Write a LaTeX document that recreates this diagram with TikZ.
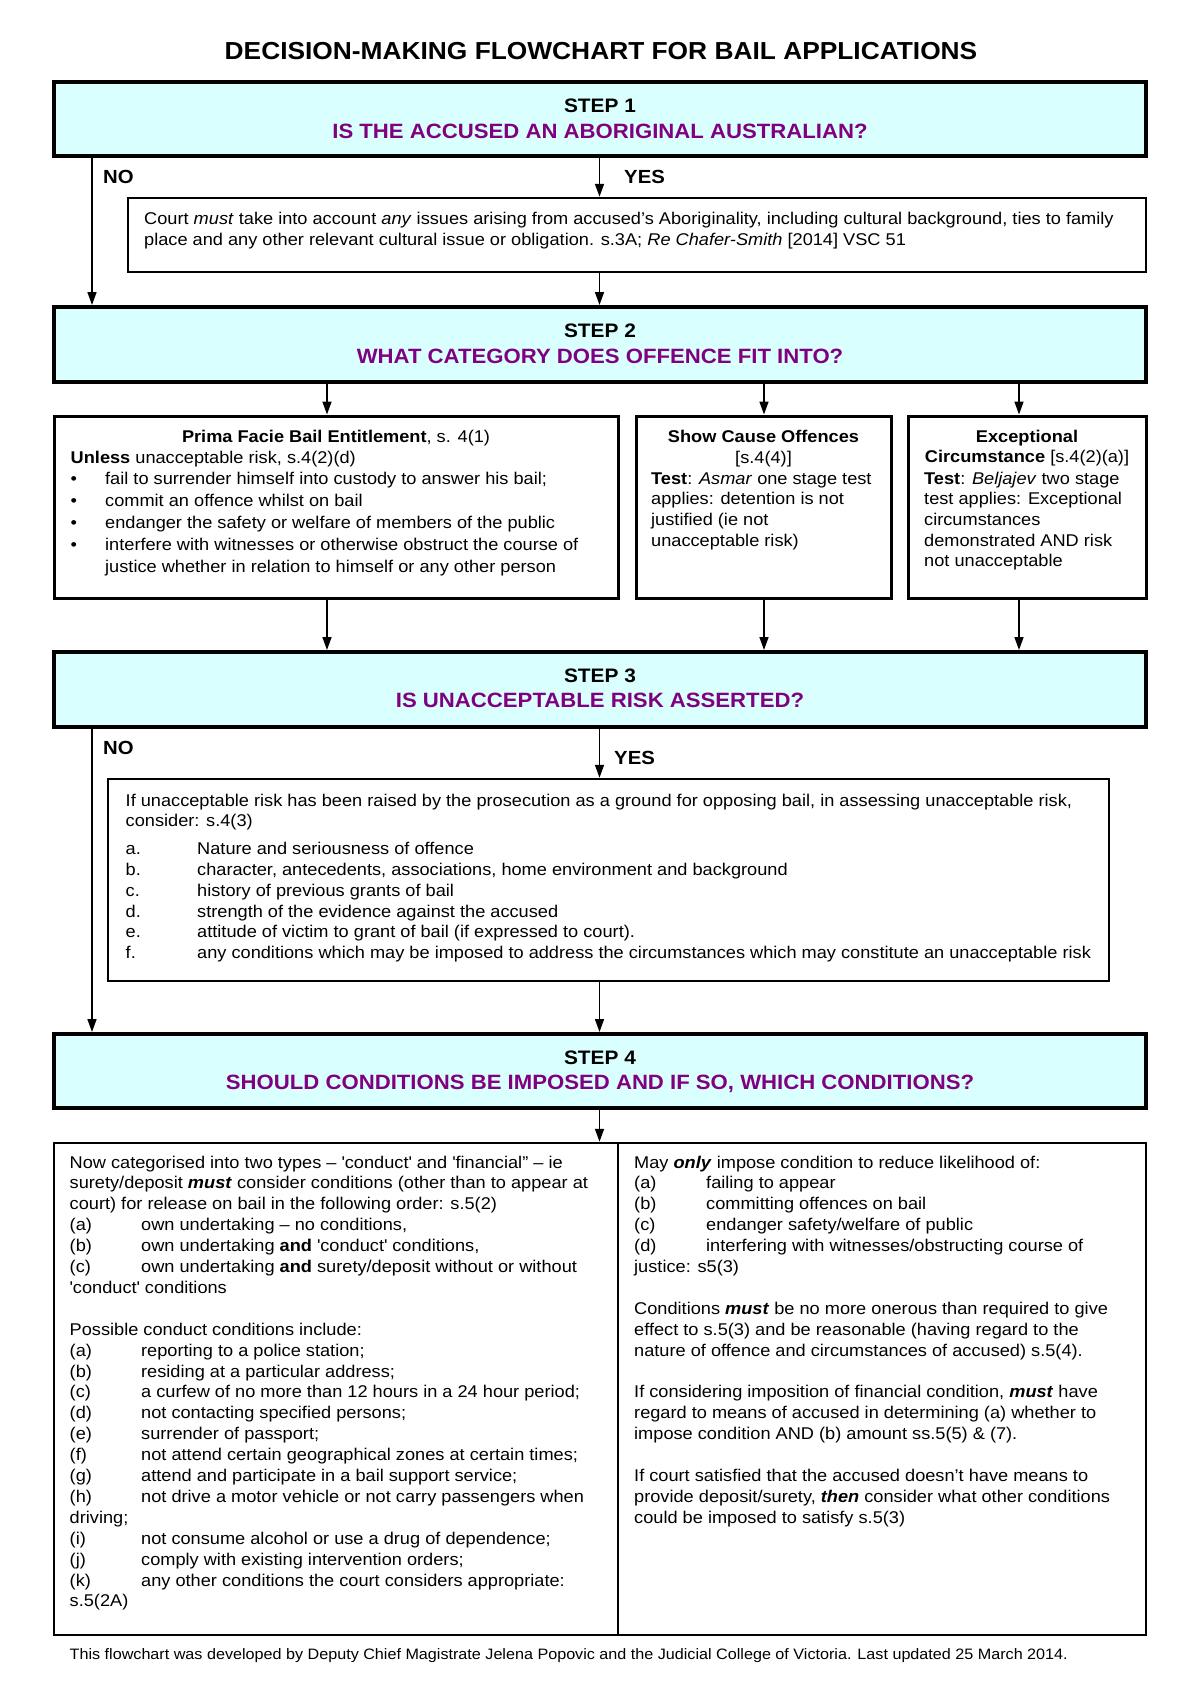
\documentclass[tikz,border=0pt]{standalone}
\usepackage{fontspec}
\setmainfont{Liberation Sans}[FakeStretch=1.07]
\usetikzlibrary{arrows.meta,calc}
\definecolor{stepfill}{RGB}{218,255,255}
\definecolor{qpurple}{RGB}{128,0,128}
\newcommand{\q}{\textquotesingle}
\newcommand{\lb}[2]{\makebox[#1][l]{#2}}
\newcommand{\tb}[2]{\parbox[t]{1100pt}{\raggedright\fontsize{17}{#1}\selectfont #2}}
\begin{document}
\begin{tikzpicture}[x=1pt,y=-1pt,
  stepbox/.style={draw=black,line width=4pt,fill=stepfill,inner sep=0pt},
  rowbox/.style={draw=black,line width=3pt,fill=white,inner sep=0pt},
  plainbox/.style={draw=black,line width=2.5pt,fill=white,inner sep=0pt},
  arr/.style={line width=1.6pt,-{Triangle[width=9pt,length=13pt]}},
  stepno/.style={anchor=base,inner sep=0pt,font=\fontsize{19.5}{24}\selectfont\bfseries},
  qtext/.style={anchor=base,inner sep=0pt,text=qpurple,font=\fontsize{20.7}{25}\selectfont\bfseries},
  yesno/.style={anchor=base west,inner sep=0pt,font=\fontsize{19}{23}\selectfont\bfseries},
  body/.style={anchor=base west,inner sep=0pt},
  cbody/.style={anchor=base,inner sep=0pt,font=\fontsize{17}{21}\selectfont}
]
\useasboundingbox (0,0) rectangle (1200,1698);
\fill[white] (0,0) rectangle (1200,1698);

% title
\node[anchor=base,inner sep=0pt,font=\fontsize{24.6}{30}\selectfont\bfseries] (title) at (601,59) {DECISION-MAKING FLOWCHART FOR BAIL APPLICATIONS};

% guide coordinates
\coordinate (L) at (92,0);
\coordinate (M) at (599.5,0);
\coordinate (AX) at (327,0);
\coordinate (BX) at (764,0);
\coordinate (CX) at (1019,0);

% STEP 1
\node[stepbox,minimum width=1092pt,minimum height=74pt] (step1) at (600,119) {};
\node[stepno] (s1a) at (600,112) {STEP 1};
\node[qtext] (s1b) at (600,138) {IS THE ACCUSED AN ABORIGINAL AUSTRALIAN?};
\node[yesno] (no1) at (103,183) {NO};
\node[yesno] (yes1) at (624,183) {YES};

\node[plainbox,minimum width=1018pt,minimum height=74pt] (court) at (637,235) {};
\node[body] (courtt) at (144,224) {\tb{21}{Court \textit{must} take into account \textit{any} issues arising from accused's Aboriginality, including cultural background, ties to family\\
place and any other relevant cultural issue or obligation. s.3A; \textit{Re Chafer-Smith} [2014] VSC 51}};

% STEP 2
\node[stepbox,minimum width=1092pt,minimum height=75pt] (step2) at (600,344.5) {};
\node[stepno] (s2a) at (600,337) {STEP 2};
\node[qtext] (s2b) at (600,363) {WHAT CATEGORY DOES OFFENCE FIT INTO?};

% category boxes
\node[rowbox,minimum width=564pt,minimum height=182pt] (boxA) at (336,507) {};
\node[rowbox,minimum width=255pt,minimum height=182pt] (boxB) at (763.5,507) {};
\node[rowbox,minimum width=238pt,minimum height=182pt] (boxC) at (1027,507) {};

\node[cbody] (a1) at (336,442) {\textbf{Prima Facie Bail Entitlement}, s. 4(1)};
\node[body] (a2) at (70.5,463) {\tb{21.8}{\textbf{Unless} unacceptable risk, s.4(2)(d)\\
\lb{34.5pt}{\textbullet}fail to surrender himself into custody to answer his bail;\\
\lb{34.5pt}{\textbullet}commit an offence whilst on bail\\
\lb{34.5pt}{\textbullet}endanger the safety or welfare of members of the public\\
\lb{34.5pt}{\textbullet}interfere with witnesses or otherwise obstruct the course of\\
\hspace*{34.5pt}justice whether in relation to himself or any other person}};

\node[cbody] (b1) at (763.5,442) {\textbf{Show Cause Offences}};
\node[cbody] (b2) at (763.5,463) {[s.4(4)]};
\node[body] (b3) at (651,484) {\tb{20.7}{\textbf{Test}: \textit{Asmar} one stage test\\
applies: detention is not\\
justified (ie not\\
unacceptable risk)}};

\node[cbody] (c1) at (1027,442) {\textbf{Exceptional}};
\node[cbody] (c2) at (1027,462.5) {\textbf{Circumstance} [s.4(2)(a)]};
\node[body] (c3) at (924,484) {\tb{20.7}{\textbf{Test}: \textit{Beljajev} two stage\\
test applies: Exceptional\\
circumstances\\
demonstrated AND risk\\
not unacceptable}};

% STEP 3
\node[stepbox,minimum width=1092pt,minimum height=75pt] (step3) at (600,689.5) {};
\node[stepno] (s3a) at (600,682) {STEP 3};
\node[qtext] (s3b) at (600,707) {IS UNACCEPTABLE RISK ASSERTED?};
\node[yesno] (no3) at (103,754) {NO};
\node[yesno] (yes3) at (614,764) {YES};

\node[plainbox,minimum width=1001pt,minimum height=202pt] (risk) at (608.5,880) {};
\node[body] (riskt) at (125.5,806) {\tb{20.8}{If unacceptable risk has been raised by the prosecution as a ground for opposing bail, in assessing unacceptable risk,\\
consider: s.4(3)\\[7pt]
\lb{71.5pt}{a.}Nature and seriousness of offence\\
\lb{71.5pt}{b.}character, antecedents, associations, home environment and background\\
\lb{71.5pt}{c.}history of previous grants of bail\\
\lb{71.5pt}{d.}strength of the evidence against the accused\\
\lb{71.5pt}{e.}attitude of victim to grant of bail (if expressed to court).\\
\lb{71.5pt}{f.}any conditions which may be imposed to address the circumstances which may constitute an unacceptable risk}};

% STEP 4
\node[stepbox,minimum width=1092pt,minimum height=74pt] (step4) at (600,1071) {};
\node[stepno] (s4a) at (600,1064) {STEP 4};
\node[qtext] (s4b) at (600,1089) {SHOULD CONDITIONS BE IMPOSED AND IF SO, WHICH CONDITIONS?};

\node[plainbox,minimum width=564pt,minimum height=492pt] (condL) at (336,1389) {};
\node[plainbox,minimum width=528pt,minimum height=492pt] (condR) at (882,1389) {};

\node[body] (condLt) at (69.5,1168) {\tb{20.9}{Now categorised into two types – \q conduct\q{} and \q financial" – ie\\
surety/deposit \textbf{\textit{must}} consider conditions (other than to appear at\\
court) for release on bail in the following order: s.5(2)\\
\lb{71.5pt}{(a)}own undertaking – no conditions,\\
\lb{71.5pt}{(b)}own undertaking \textbf{and} \q conduct\q{} conditions,\\
\lb{71.5pt}{(c)}own undertaking \textbf{and} surety/deposit without or without\\
\q conduct\q{} conditions\\
~\\
Possible conduct conditions include:\\
\lb{71.5pt}{(a)}reporting to a police station;\\
\lb{71.5pt}{(b)}residing at a particular address;\\
\lb{71.5pt}{(c)}a curfew of no more than 12 hours in a 24 hour period;\\
\lb{71.5pt}{(d)}not contacting specified persons;\\
\lb{71.5pt}{(e)}surrender of passport;\\
\lb{71.5pt}{(f)}not attend certain geographical zones at certain times;\\
\lb{71.5pt}{(g)}attend and participate in a bail support service;\\
\lb{71.5pt}{(h)}not drive a motor vehicle or not carry passengers when\\
driving;\\
\lb{71.5pt}{(i)}not consume alcohol or use a drug of dependence;\\
\lb{71.5pt}{(j)}comply with existing intervention orders;\\
\lb{71.5pt}{(k)}any other conditions the court considers appropriate:\\
s.5(2A)}};

\node[body] (condRt) at (634,1168) {\tb{20.9}{May \textbf{\textit{only}} impose condition to reduce likelihood of:\\
\lb{72pt}{(a)}failing to appear\\
\lb{72pt}{(b)}committing offences on bail\\
\lb{72pt}{(c)}endanger safety/welfare of public\\
\lb{72pt}{(d)}interfering with witnesses/obstructing course of\\
justice: s5(3)\\
~\\
Conditions \textbf{\textit{must}} be no more onerous than required to give\\
effect to s.5(3) and be reasonable (having regard to the\\
nature of offence and circumstances of accused) s.5(4).\\
~\\
If considering imposition of financial condition, \textbf{\textit{must}} have\\
regard to means of accused in determining (a) whether to\\
impose condition AND (b) amount ss.5(5) \& (7).\\
~\\
If court satisfied that the accused doesn't have means to\\
provide deposit/surety, \textbf{\textit{then}} consider what other conditions\\
could be imposed to satisfy s.5(3)}};

\node[body,font=\fontsize{15.1}{19}\selectfont] (footer) at (69.5,1659) {This flowchart was developed by Deputy Chief Magistrate Jelena Popovic and the Judicial College of Victoria. Last updated 25 March 2014.};

% connectors
\draw[arr] (L |- step1.south) -- (L |- step2.north);
\draw[arr] (M |- step1.south) -- (M |- court.north);
\draw[arr] (M |- court.south) -- (M |- step2.north);
\draw[arr] (AX |- step2.south) -- (AX |- boxA.north);
\draw[arr] (BX |- step2.south) -- (BX |- boxB.north);
\draw[arr] (CX |- step2.south) -- (CX |- boxC.north);
\draw[arr] (AX |- boxA.south) -- (AX |- step3.north);
\draw[arr] (BX |- boxB.south) -- (BX |- step3.north);
\draw[arr] (CX |- boxC.south) -- (CX |- step3.north);
\draw[arr] (L |- step3.south) -- (L |- step4.north);
\draw[arr] (M |- step3.south) -- (M |- risk.north);
\draw[arr] (M |- risk.south) -- (M |- step4.north);
\draw[arr] (M |- step4.south) -- (M |- condL.north);
\end{tikzpicture}
\end{document}
